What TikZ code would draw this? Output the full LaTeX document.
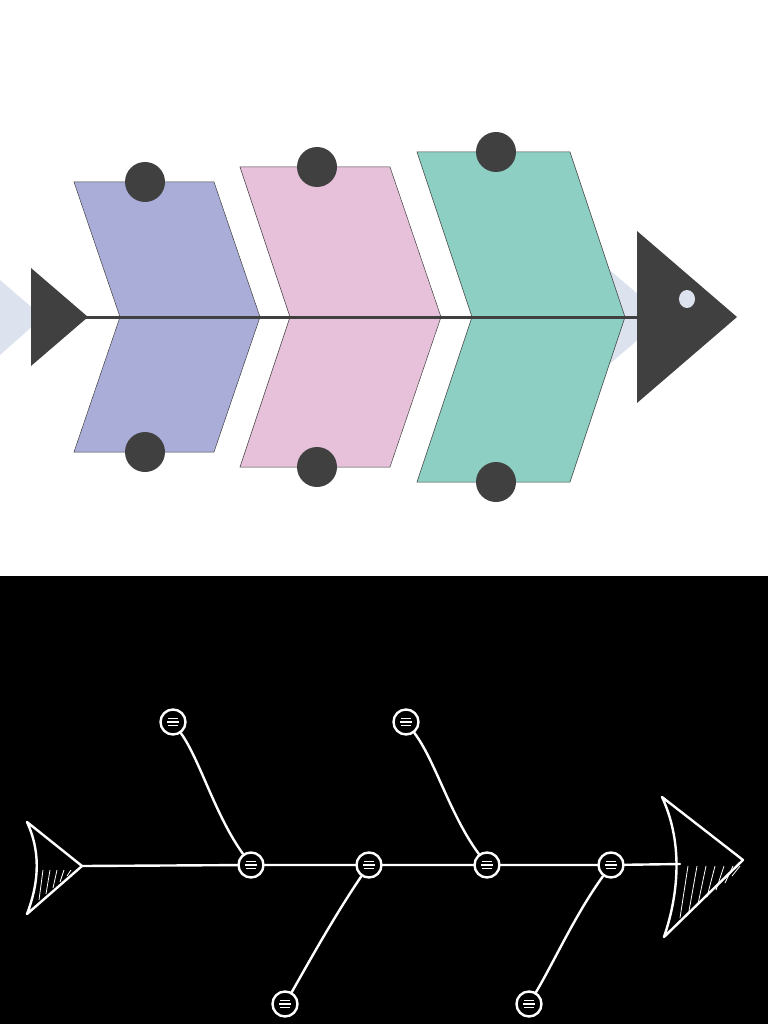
\documentclass[tikz,border=0pt]{standalone}
\begin{document}
\begin{tikzpicture}[x=1pt,y=-1pt,
  dot/.style={circle,fill=dk,minimum size=40pt,inner sep=0pt},
  bone/.style={draw=white,line width=2.4pt,line cap=round,line join=round},
  ring/.style={circle,draw=white,line width=2.4pt,minimum size=25pt,inner sep=0pt,fill=black}]
\definecolor{dk}{HTML}{404040}
\definecolor{lb}{HTML}{DDE3EE}
\definecolor{cb}{HTML}{AAADD8}
\definecolor{cp}{HTML}{E6C1D9}
\definecolor{cg}{HTML}{8DD0C3}
\useasboundingbox (0,0) rectangle (768,1024);
% top
\fill[lb] (0,280) -- (43,317) -- (0,355) -- cycle;
\fill[lb] (600,262) -- (665,317) -- (600,372) -- cycle;
\fill[dk] (31,268) -- (88,317) -- (31,366) -- cycle;
\draw[draw=dk,line width=0.5pt,fill=cb] (74,182) -- (214,182) -- (260,317) -- (214,452) -- (74,452) -- (120,317) -- cycle;
\draw[draw=dk,line width=0.5pt,fill=cp] (240,167) -- (390,167) -- (441,317) -- (390,467) -- (240,467) -- (290,317) -- cycle;
\draw[draw=dk,line width=0.5pt,fill=cg] (417,152) -- (570,152) -- (625,317) -- (570,482) -- (417,482) -- (472,317) -- cycle;
\coordinate (s0) at (86,317); \coordinate (s1) at (662,317);
\draw[dk,line width=3pt] (s0) -- (s1);
\fill[dk] (637,231) -- (737,317) -- (637,403) -- cycle;
\fill[lb] (687,299) ellipse (8 and 9);
\node[dot] (b1) at (145,182) {}; \node[dot] (b2) at (145,452) {};
\node[dot] (p1) at (317,167) {}; \node[dot] (p2) at (317,467) {};
\node[dot] (g1) at (496,152) {}; \node[dot] (g2) at (496,482) {};
% bottom
\fill[black] (0,576) rectangle (768,1024);
\coordinate (tail) at (82,866);
\coordinate (head) at (680,864);
\node[ring] (n1) at (251,865) {}; \node[ring] (n2) at (369,865) {};
\node[ring] (n3) at (487,865) {}; \node[ring] (n4) at (611,865) {};
\node[ring] (t1) at (173,722) {}; \node[ring] (t2) at (406,722) {};
\node[ring] (u1) at (285,1004) {}; \node[ring] (u2) at (529,1004) {};
\draw[bone] (tail) -- (n1) -- (n2) -- (n3) -- (n4) -- (head);
\draw[bone] (n1) .. controls (215,815) and (200,760) .. (t1);
\draw[bone] (n3) .. controls (450,815) and (435,760) .. (t2);
\draw[bone] (n2) .. controls (335,915) and (310,960) .. (u1);
\draw[bone] (n4) .. controls (575,915) and (555,960) .. (u2);
\draw[bone] (27,822) -- (82,866) -- (27,914) .. controls (40,880) and (40,850) .. cycle;
\foreach \x/\h in {43/30,50/24,57/18,64/12,71/6}{\draw[white,line width=0.8pt] (\x,870) -- (\x-4,870+\h);}
\draw[bone] (662,797) -- (743,860) -- (664,937) .. controls (680,890) and (682,840) .. cycle;
\foreach \x/\h in {688/52,697/45,706/38,715/31,724/24,733/17,740/10}{\draw[white,line width=0.8pt] (\x,866) -- (\x-8,866+\h);}
\foreach \n in {n1,n2,n3,n4,t1,t2,u1,u2}{
  \draw[white,line width=1.3pt] ([shift={(-5,-3.5)}]\n.center) -- ++(10,0);
  \draw[white,line width=1.3pt] ([shift={(-6,0)}]\n.center) -- ++(12,0);
  \draw[white,line width=1.3pt] ([shift={(-5,3.5)}]\n.center) -- ++(10,0);}
\end{tikzpicture}
\end{document}
